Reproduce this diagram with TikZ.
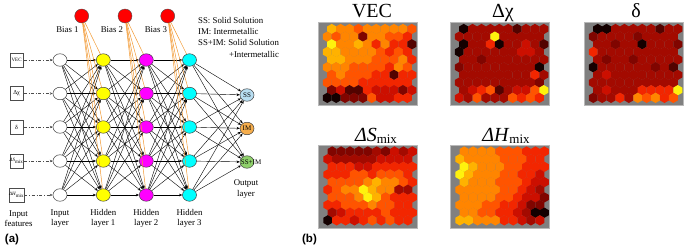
\documentclass[tikz,border=0pt]{standalone}
\usepackage{fontspec}
\setmainfont{Liberation Serif}
\setsansfont{Liberation Sans}
\usetikzlibrary{arrows.meta,shapes.geometric,calc}
\definecolor{h0}{rgb}{0.08,0,0}
\definecolor{h1}{rgb}{0.32,0.01,0}
\definecolor{h2}{rgb}{0.5,0.02,0}
\definecolor{h3}{rgb}{0.64,0.04,0}
\definecolor{h4}{rgb}{0.8,0.06,0}
\definecolor{h5}{rgb}{0.95,0.15,0}
\definecolor{h6}{rgb}{1,0.33,0}
\definecolor{h7}{rgb}{1,0.52,0}
\definecolor{h8}{rgb}{1,0.7,0}
\definecolor{h9}{rgb}{1,0.95,0.05}
\definecolor{mapgray}{rgb}{0.5,0.5,0.5}
\definecolor{biasorange}{rgb}{0.95,0.6,0.2}
\definecolor{ssblue}{rgb}{0.72,0.87,0.95}
\definecolor{imorange}{rgb}{0.96,0.68,0.3}
\definecolor{ssimgreen}{rgb}{0.56,0.82,0.42}
\definecolor{hyellow}{rgb}{1,1,0}
\definecolor{hmagenta}{rgb}{1,0,1}
\definecolor{hcyan}{rgb}{0,1,1}
\definecolor{hred}{rgb}{1,0,0}
\newcommand\hexmap[3]{%
  \fill[mapgray] (#1,#2) rectangle ++(99,83);
  \draw[gray!55, line width=0.5pt] (#1,#2) rectangle ++(99,83);
  \foreach \rowdata [count=\ri] in {#3} {
    \foreach \v [count=\ci] in \rowdata {
      \pgfmathsetmacro\cx{#1+13.7+(\ci-1)*8.9-(isodd(\ri)?0:4.45)}
      \pgfmathsetmacro\cy{#2+6.5+(\ri-1)*7.65}
      \fill[h\v] (\cx,\cy) +(90:5.15) -- +(150:5.15) -- +(210:5.15) -- +(270:5.15) -- +(330:5.15) -- +(30:5.15) -- cycle;
    }
  }
}
\tikzset{
  neuron/.style={ellipse, draw=black!75, line width=0.5pt, minimum width=14pt, minimum height=12.5pt, inner sep=0pt},
  biasnode/.style={circle, draw=black!70, fill=hred, line width=0.4pt, minimum size=14pt, inner sep=0pt},
  featbox/.style={draw=black!70, line width=0.4pt, minimum width=13.5pt, minimum height=14pt, inner sep=0pt, font=\fontsize{5}{5}\selectfont},
  lab/.style={font=\fontsize{8.8}{10.5}\selectfont, align=center},
  edge/.style={line width=0.4pt, -{Stealth[length=3.2pt,width=2.6pt]}},
  biasedge/.style={biasorange, line width=0.5pt},
  title/.style={font=\fontsize{20}{20}\selectfont, anchor=base},
  panel/.style={font=\sffamily\bfseries\fontsize{11.5}{12}\selectfont}
}
\begin{document}
\begin{tikzpicture}[x=1pt,y=-1pt]
\useasboundingbox (0,0) rectangle (685,249);
% layers
\foreach \y [count=\k] in {60,93.5,127,161,195} {
  \node[neuron, fill=white] (in\k) at (60,\y) {};
  \node[neuron, fill=hyellow] (ha\k) at (103.3,\y) {};
  \node[neuron, fill=hmagenta] (hb\k) at (146.3,\y) {};
  \node[neuron, fill=hcyan] (hc\k) at (189.5,\y) {};
}
\node[featbox] (f1) at (16.6,60) {VEC};
\node[featbox] (f2) at (16.6,93.5) {\fontsize{6}{6}\selectfont Δχ};
\node[featbox] (f3) at (16.6,127) {\fontsize{6}{6}\selectfont δ};
\node[featbox] (f4) at (16.6,161) {\textit{ΔS}\textsubscript{mix}};
\node[featbox] (f5) at (16.6,195) {\textit{ΔH}\textsubscript{mix}};
\foreach \k in {1,...,5} {
  \draw[black!70, line width=0.4pt, dash dot, -{Stealth[length=3pt,width=2.4pt]}] (f\k) -- (in\k);
}
% outputs
\node[neuron, fill=ssblue, font=\fontsize{7}{7}\selectfont] (o1) at (247,95) {SS};
\node[neuron, fill=imorange, font=\fontsize{7}{7}\selectfont] (o2) at (247,128.5) {IM};
\node[neuron, fill=ssimgreen] (o3) at (247,162) {};
\node[font=\fontsize{7}{7}\selectfont, anchor=west, inner sep=0pt] (o3t) at ($(o3.west)+(1,0)$) {SS+IM};
% bias nodes
\node[biasnode] (b1) at (81.7,16) {};
\node[biasnode] (b2) at (125,16) {};
\node[biasnode] (b3) at (167.7,16) {};
\node[lab] (bl1) at (67.5,30) {Bias 1};
\node[lab] (bl2) at (112,30) {Bias 2};
\node[lab] (bl3) at (156,30) {Bias 3};
% connections
\foreach \i in {1,...,5} {
  \foreach \j in {1,...,5} {
    \draw[edge] (in\i) -- (ha\j);
    \draw[edge] (ha\i) -- (hb\j);
    \draw[edge] (hb\i) -- (hc\j);
  }
  \foreach \j in {1,2,3} {
    \draw[edge] (hc\i) -- (o\j);
  }
  \draw[biasedge] (b1) -- (ha\i);
  \draw[biasedge] (b2) -- (hb\i);
  \draw[biasedge] (b3) -- (hc\i);
}
% legend
\node[lab, anchor=west, inner sep=0pt] (lg1) at (198,21) {SS: Solid Solution};
\node[lab, anchor=west, inner sep=0pt] (lg2) at (198,32) {IM: Intermetallic};
\node[lab, anchor=west, inner sep=0pt] (lg3) at (198,43) {SS+IM: Solid Solution};
\node[lab, anchor=east, inner sep=0pt] (lg4) at (lg3.east |- 0,54) {+Intermetallic};
% layer labels
\node[lab] (t0) at (18.5,218.5) {Input\\features};
\node[lab] (t1) at (60,218.5) {Input\\layer};
\node[lab] (t2) at (103.3,218.5) {Hidden\\layer 1};
\node[lab] (t3) at (146.3,218.5) {Hidden\\layer 2};
\node[lab] (t4) at (189.5,218.5) {Hidden\\layer 3};
\node[lab] (t5) at (246,189) {Output\\layer};
\node[panel] (pa) at (12,240) {(a)};
\node[panel] (pb) at (309.5,240) {(b)};
% maps
\hexmap{318}{22.5}{{8,7,7,6,7,7,7,7,7,6},{7,6,7,7,2,7,7,6,6,5},{9,7,7,8,7,5,7,5,5,1},{8,8,7,7,7,7,6,5,6,5},{8,8,7,7,7,6,6,6,7,5},{7,7,7,6,6,6,6,5,7,6},{6,7,6,6,6,5,5,1,5,5},{6,6,6,6,5,5,5,5,5,5},{2,4,1,1,5,4,4,4,2,4},{0,0,2,2,2,6,4,4,5,5}}
\hexmap{450}{22.5}{{0,3,3,3,3,3,1,3,3,3},{3,3,3,3,9,3,3,3,3,3},{0,3,3,5,0,3,3,4,3,1},{0,3,3,3,3,3,3,4,4,3},{3,3,2,3,3,3,3,3,3,3},{2,3,3,3,3,3,3,3,3,0},{3,3,3,3,3,3,3,3,5,3},{3,3,3,3,3,3,3,3,3,2},{3,4,5,6,1,3,4,4,6,9},{4,3,6,3,3,3,6,5,6,5}}
\hexmap{584}{22.5}{{0,0,3,3,3,3,3,1,3,3},{2,3,3,3,3,2,3,3,3,3},{3,3,2,3,3,0,3,3,3,2},{5,3,3,3,3,3,3,3,3,3},{3,2,3,3,2,3,3,3,3,3},{0,3,3,3,3,3,3,2,3,1},{3,4,3,3,3,3,3,3,3,3},{3,3,3,3,3,3,3,3,3,3},{3,4,3,3,3,5,5,5,5,9},{2,3,3,5,3,7,6,7,5,6}}
\hexmap{318.5}{145}{{2,2,2,2,2,3,2,4,3,4},{4,3,3,3,3,3,4,4,4,4},{5,5,5,4,4,5,5,5,5,5},{5,5,5,6,6,5,6,6,6,5},{6,6,6,6,7,8,7,7,6,5},{5,6,7,7,9,8,7,7,3,3},{6,6,6,7,9,8,6,5,5,5},{5,5,6,6,6,7,6,6,5,5},{3,4,5,5,5,5,6,5,5,5},{0,5,5,4,5,6,5,6,5,5}}
\hexmap{450.5}{145}{{7,7,7,7,6,6,6,5,5,5},{8,7,7,7,7,6,6,6,5,5},{9,8,7,7,7,6,6,5,5,5},{9,8,7,7,7,6,6,5,5,4},{8,7,7,7,6,6,6,5,4,4},{7,7,7,7,7,6,6,5,4,3},{7,7,7,7,6,6,5,4,4,2},{7,7,7,6,6,5,5,4,2,2},{7,7,6,6,5,5,4,3,0,0},{8,8,7,7,7,5,5,4,3,4}}
% titles
\node[title] (m1) at (372,17) {VEC};
\node[title] (m2) at (503,17) {Δχ};
\node[title] (m3) at (636,17) {δ};
\node[title] (m4) at (376,141) {\textit{ΔS}\raisebox{-2pt}{\fontsize{13}{13}\selectfont mix}};
\node[title] (m5) at (506,141) {\textit{ΔH}\raisebox{-2pt}{\fontsize{13}{13}\selectfont mix}};
\end{tikzpicture}
\end{document}
